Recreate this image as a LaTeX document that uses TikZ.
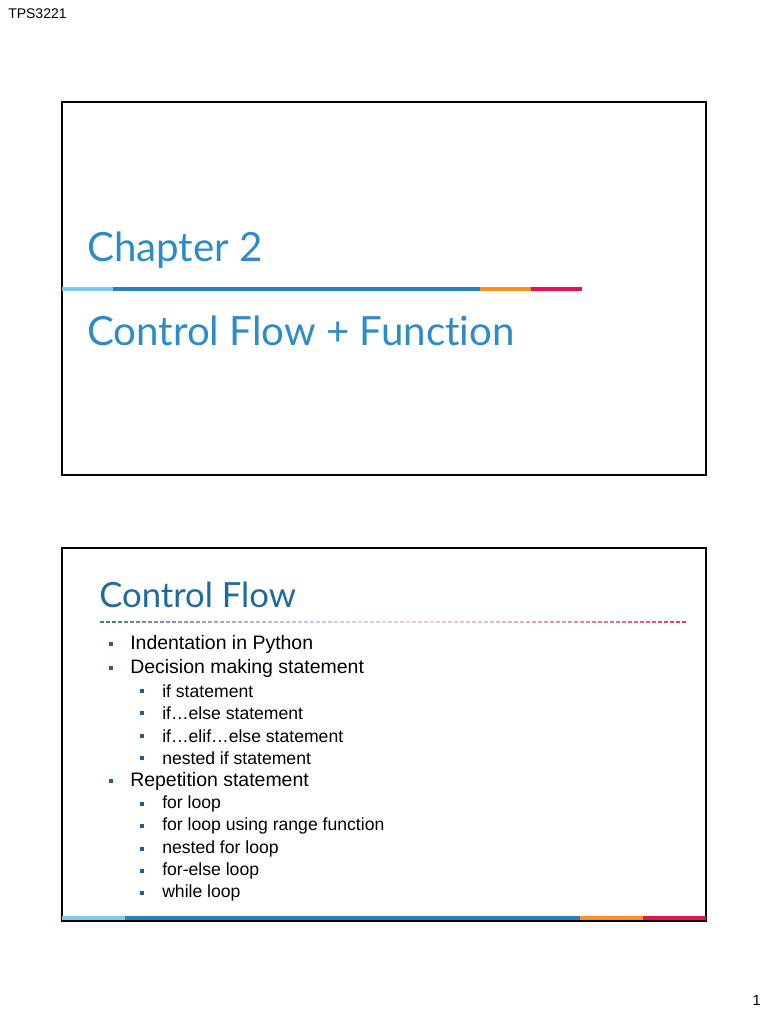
\documentclass[tikz,border=0pt]{standalone}
\usepackage{fontspec}
\setmainfont{Liberation Sans}
\newfontfamily\titlefont[Ligatures={NoCommon,NoRare}]{Lato}
\definecolor{tblue}{HTML}{2E8BC9}
\definecolor{tdark}{HTML}{1F6A9E}
\definecolor{lblue}{HTML}{7CCBF5}
\definecolor{mblue}{HTML}{2680C2}
\definecolor{orng}{HTML}{F7941D}
\definecolor{redd}{HTML}{E8114F}
\definecolor{bul}{HTML}{1F5F99}
\begin{document}
\begin{tikzpicture}[x=0.75pt,y=-0.75pt,
  bodytext/.style={anchor=west,inner sep=0pt,font=\fontsize{14.6}{16}\selectfont},
  subtext/.style={anchor=west,inner sep=0pt,font=\fontsize{13.2}{14}\selectfont},
  bull/.style={fill=bul,minimum size=3.6pt,inner sep=0pt}]
\useasboundingbox (0,0) rectangle (768,1024);
\node[anchor=north west,inner sep=0pt,font=\fontsize{10.5}{12}\selectfont] (hdr) at (8,8) {TPS3221};
\node[anchor=south east,inner sep=0pt,font=\fontsize{11}{12}\selectfont] (pg) at (761,1006) {1};
% slide 1
\draw[line width=1pt] (62,102) rectangle (706,475);
\node[anchor=base west,inner sep=0pt,text=tblue,font=\titlefont\fontsize{30.2}{33}\selectfont] (ch) at (87,261) {Chapter 2};
\fill[lblue] (62,287) rectangle (113,291);
\fill[mblue] (113,287) rectangle (480,291);
\fill[orng] (480,287) rectangle (531,291);
\fill[redd] (531,287) rectangle (582,291);
\node[anchor=base west,inner sep=0pt,text=tblue,font=\titlefont\fontsize{30.2}{33}\selectfont] (cf) at (87,345) {Control Flow + Function};
% slide 2
\draw[line width=1pt] (62,548) rectangle (706,921);
\node[anchor=base west,inner sep=0pt,text=tdark,font=\titlefont\fontsize{26}{29}\selectfont] (t2) at (99,607) {Control Flow};
\foreach \i in {0,...,97}{
  \pgfmathsetmacro{\p}{\i/97*100}
  \pgfmathsetmacro{\o}{0.85-0.6*sin(\i/97*180)}
  \draw[color=redd!\p!bul, opacity=\o, line width=0.8pt] (100+\i*6,622) -- ++(3.5,0);
}
\fill[lblue] (62,916) rectangle (125,920);
\fill[mblue] (125,916) rectangle (580,920);
\fill[orng] (580,916) rectangle (643,920);
\fill[redd] (643,916) rectangle (706,920);
\foreach \y/\t in {644/Indentation in Python,668/Decision making statement,781/Repetition statement}{
  \node[bull] at (111,\y) {};
  \node[bodytext] at (130,\y) {\t};
}
\foreach \y/\t in {691/if statement,713/if…else statement,736/if…elif…else statement,758/nested if statement,804/for loop,826/for loop using range function,849/nested for loop,871/for-else loop,893/while loop}{
  \node[bull,minimum size=3.2pt] at (142,\y) {};
  \node[subtext] at (162,\y) {\t};
}
\end{tikzpicture}
\end{document}
